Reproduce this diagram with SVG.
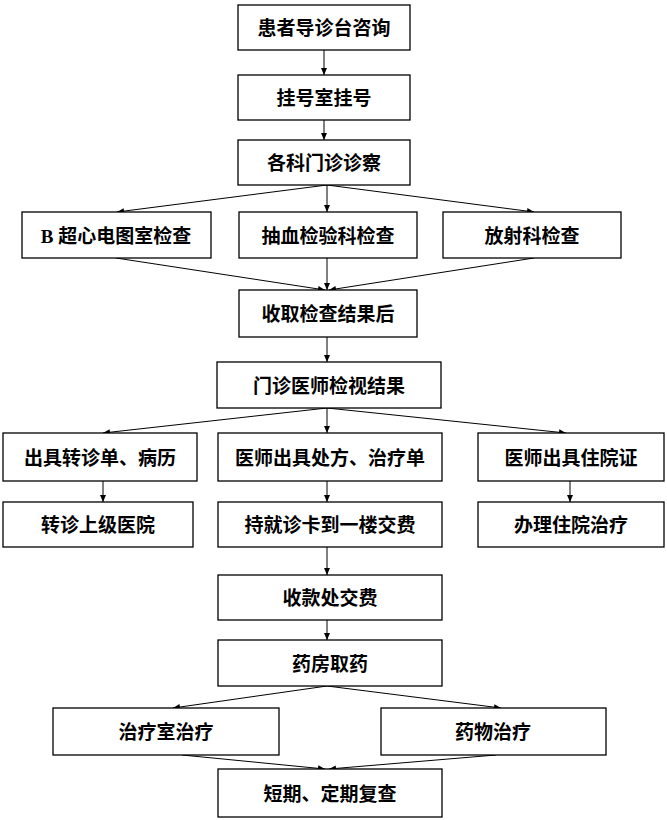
<svg xmlns="http://www.w3.org/2000/svg" width="667" height="820" viewBox="0 0 667 820">
<style>
rect{fill:#fff;stroke:#000;stroke-width:1.3}
text{font-family:"Liberation Serif","Noto Sans CJK SC",serif;font-weight:bold;font-size:19px;text-anchor:middle;dominant-baseline:central;fill:#000}
#c line{stroke:#000;stroke-width:1;marker-end:url(#a)}
</style>
<defs><marker id="a" markerWidth="8" markerHeight="8" refX="7" refY="4" orient="auto" markerUnits="userSpaceOnUse"><path d="M0,1L7,4L0,7z" fill="#000"/></marker></defs>
<g id="c">
<line x1="324" y1="50" x2="324" y2="75"/>
<line x1="324" y1="120" x2="324" y2="140"/>
<line x1="327" y1="185" x2="117" y2="212"/>
<line x1="327" y1="185" x2="327" y2="212"/>
<line x1="327" y1="185" x2="534" y2="212"/>
<line x1="116" y1="258" x2="325" y2="290"/>
<line x1="327" y1="258" x2="327" y2="290"/>
<line x1="534" y1="258" x2="329" y2="290"/>
<line x1="327" y1="337" x2="327" y2="362"/>
<line x1="327" y1="408" x2="103" y2="433"/>
<line x1="327" y1="408" x2="327" y2="433"/>
<line x1="327" y1="408" x2="566" y2="433"/>
<line x1="103" y1="481" x2="103" y2="502"/>
<line x1="327" y1="481" x2="327" y2="502"/>
<line x1="570" y1="481" x2="570" y2="502"/>
<line x1="327" y1="547" x2="327" y2="575"/>
<line x1="327" y1="620" x2="327" y2="640"/>
<line x1="327" y1="686" x2="173" y2="708"/>
<line x1="327" y1="686" x2="501" y2="708"/>
<line x1="182" y1="755" x2="325" y2="769"/>
<line x1="496" y1="755" x2="329" y2="769"/>
</g>
<g id="n1"><rect x="238" y="5" width="172" height="45"/><text x="324" y="28">患者导诊台咨询</text></g>
<g id="n2"><rect x="238" y="75" width="172" height="45"/><text x="324" y="98">挂号室挂号</text></g>
<g id="n3"><rect x="238" y="140" width="172" height="45"/><text x="324" y="163">各科门诊诊察</text></g>
<g id="n4"><rect x="22" y="212" width="189" height="46"/><text x="116" y="236">B 超心电图室检查</text></g>
<g id="n5"><rect x="239" y="212" width="178" height="46"/><text x="328" y="236">抽血检验科检查</text></g>
<g id="n6"><rect x="443" y="212" width="178" height="46"/><text x="532" y="236">放射科检查</text></g>
<g id="n7"><rect x="239" y="290" width="178" height="47"/><text x="328" y="314">收取检查结果后</text></g>
<g id="n8"><rect x="217" y="362" width="224" height="46"/><text x="329" y="386">门诊医师检视结果</text></g>
<g id="n9"><rect x="3" y="433" width="194" height="48"/><text x="100" y="458">出具转诊单、病历</text></g>
<g id="n10"><rect x="218" y="433" width="224" height="48"/><text x="330" y="458">医师出具处方、治疗单</text></g>
<g id="n11"><rect x="478" y="433" width="186" height="48"/><text x="571" y="458">医师出具住院证</text></g>
<g id="n12"><rect x="3" y="502" width="190" height="45"/><text x="98" y="525">转诊上级医院</text></g>
<g id="n13"><rect x="218" y="502" width="224" height="45"/><text x="330" y="525">持就诊卡到一楼交费</text></g>
<g id="n14"><rect x="478" y="502" width="186" height="45"/><text x="571" y="525">办理住院治疗</text></g>
<g id="n15"><rect x="218" y="575" width="224" height="45"/><text x="330" y="598">收款处交费</text></g>
<g id="n16"><rect x="218" y="640" width="224" height="46"/><text x="330" y="664">药房取药</text></g>
<g id="n17"><rect x="53" y="708" width="226" height="47"/><text x="166" y="732">治疗室治疗</text></g>
<g id="n18"><rect x="381" y="708" width="225" height="47"/><text x="493" y="732">药物治疗</text></g>
<g id="n19"><rect x="218" y="769" width="224" height="48"/><text x="330" y="794">短期、定期复查</text></g>
</svg>
